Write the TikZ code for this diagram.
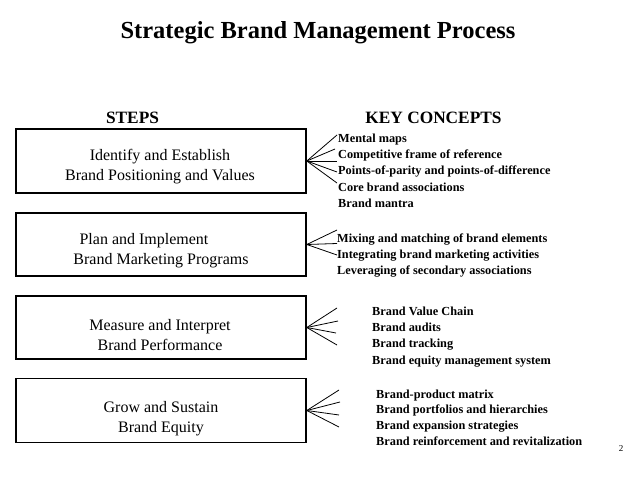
\documentclass[tikz,border=0pt]{standalone}
\usepackage{fontspec}
\setmainfont{Liberation Serif}
\begin{document}
\begin{tikzpicture}[x=1pt,y=-1pt,
  stepbox/.style={draw,line width=1.6pt,minimum width=290pt,minimum height=64pt,inner sep=0pt},
  steptext/.style={align=center,font=\fontsize{16}{19.5}\selectfont,inner sep=0pt},
  concept/.style={anchor=west,font=\fontsize{12.3}{14}\selectfont\bfseries,inner sep=0pt,text height=8.6pt,text depth=2.8pt},
  fan/.style={line width=0.8pt},
  head/.style={font=\fontsize{17.3}{20}\selectfont\bfseries,inner sep=0pt}]
\useasboundingbox (0,0) rectangle (638,479);
\node[font=\fontsize{24.5}{28}\selectfont\bfseries,inner sep=0pt] (title) at (318,33) {Strategic Brand Management Process};
\node[head] (steps) at (132.5,118) {STEPS};
\node[head] (kc) at (433.5,118) {KEY CONCEPTS};
% boxes
\node[stepbox] (b1) at (161,161) {};
\node[stepbox,minimum height=63pt] (b2) at (161,244.5) {};
\node[stepbox,minimum height=63pt] (b3) at (161,327.5) {};
\node[stepbox] (b4) at (161,410.5) {};
\node[steptext] (t1) at (160,166.5) {Identify and Establish\\Brand Positioning and Values};
\node[steptext] (t2) at (161,250.5) {Plan and Implement\kern34pt\\Brand Marketing Programs};
\node[steptext] (t3) at (160,335) {Measure and Interpret\\Brand Performance};
\node[steptext] (t4) at (161,418.5) {Grow and Sustain\\Brand Equity};
% concepts
\node[concept] (c11) at (338,140) {Mental maps};
\node[concept] (c12) at (338,156) {Competitive frame of reference};
\node[concept] (c13) at (338,172) {Points-of-parity and points-of-difference};
\node[concept] (c14) at (338,189) {Core brand associations};
\node[concept] (c15) at (338,205) {Brand mantra};
\node[concept] (c21) at (337,240) {Mixing and matching of brand elements};
\node[concept] (c22) at (337,256) {Integrating brand marketing activities};
\node[concept] (c23) at (337,272) {Leveraging of secondary associations};
\node[concept] (c31) at (372,313) {Brand Value Chain};
\node[concept] (c32) at (372,329) {Brand audits};
\node[concept] (c33) at (372,345) {Brand tracking};
\node[concept] (c34) at (372,362) {Brand equity management system};
\node[concept] (c41) at (376,396) {Brand-product matrix};
\node[concept] (c42) at (376,411) {Brand portfolios and hierarchies};
\node[concept] (c43) at (376,427) {Brand expansion strategies};
\node[concept] (c44) at (376,443) {Brand reinforcement and revitalization};
\node[font=\fontsize{9}{11}\selectfont,inner sep=0pt] (pg) at (621,449) {2};
% fan ends
\coordinate (e11) at (337,135); \coordinate (e12) at (335,149); \coordinate (e13) at (337,161);
\coordinate (e14) at (337,172); \coordinate (e15) at (337,183);
\coordinate (e21) at (337,230); \coordinate (e22) at (337,243.5); \coordinate (e23) at (337,255);
\coordinate (e31) at (337,308); \coordinate (e32) at (338,321); \coordinate (e33) at (336,333); \coordinate (e34) at (337,345);
\coordinate (e41) at (339,390); \coordinate (e42) at (340,402); \coordinate (e43) at (339,415); \coordinate (e44) at (339,427);
\foreach \e in {e11,e12,e13,e14,e15} \draw[fan] (b1.east) -- (\e);
\foreach \e in {e21,e22,e23} \draw[fan] (b2.east) -- (\e);
\foreach \e in {e31,e32,e33,e34} \draw[fan] (b3.east) -- (\e);
\foreach \e in {e41,e42,e43,e44} \draw[fan] (b4.east) -- (\e);
\end{tikzpicture}
\end{document}
